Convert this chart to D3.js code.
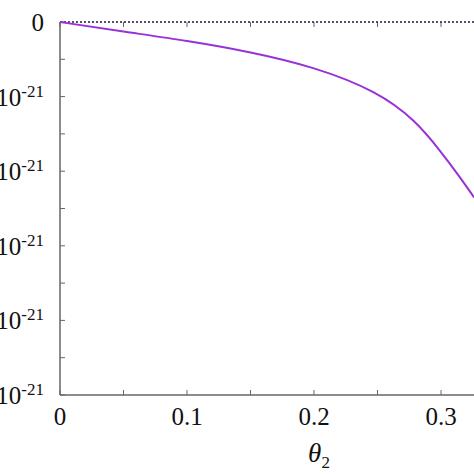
<!DOCTYPE html>
<html><head><meta charset="utf-8">
<script src="https://cdn.jsdelivr.net/npm/d3@7"></script>
<style>body{margin:0;background:#fff}svg{display:block}text{font-family:'Liberation Serif','Times New Roman',Times,serif;fill:#111}</style>
</head><body><svg id="c" width="474" height="474"></svg>
<script>
const thetaVals=[0,0.05,0.1,0.15,0.2,0.25,0.28,0.3,0.315,0.326];
const curveVals=[0,-0.13,-0.25,-0.40,-0.60,-0.93,-1.32,-1.74,-2.08,-2.35];
const xTicks=[0,0.1,0.2,0.3];
const yTicks=[0,-1,-2,-3,-4,-5];
const svg=d3.select("#c");
const x=d3.scaleLinear().domain([0,0.3]).range([60,441]);
const y=d3.scaleLinear().domain([0,-5]).range([22,395]);
const g=svg.append("g");
const xMinor=d3.range(0,0.36,0.05), yMinor=d3.range(0,-5.01,-0.5);
g.selectAll(".xm").data(xMinor).join("line").attr("x1",d=>x(d)).attr("x2",d=>x(d)).attr("y1",395).attr("y2",390).attr("stroke","#666");
g.selectAll(".xm2").data(xMinor).join("line").attr("x1",d=>x(d)).attr("x2",d=>x(d)).attr("y1",22).attr("y2",27).attr("stroke","#666");
g.selectAll(".ym").data(yMinor).join("line").attr("x1",60).attr("x2",65).attr("y1",d=>y(d)).attr("y2",d=>y(d)).attr("stroke","#666");
g.append("line").attr("x1",60).attr("x2",474).attr("y1",395).attr("y2",395).attr("stroke","#666").attr("stroke-width",1.5);
g.append("line").attr("x1",60).attr("x2",60).attr("y1",22).attr("y2",395).attr("stroke","#666").attr("stroke-width",1.5);
g.selectAll(".xl").data(xTicks).join("text").attr("x",d=>x(d)).attr("y",425).attr("text-anchor","middle").attr("font-size",25).text(d=>d===0?"0":d.toFixed(1));
yTicks.forEach(d=>{
  const t=g.append("text").attr("x",44).attr("y",y(d)+9).attr("text-anchor","end").attr("font-size",25);
  if(d===0){t.text("0");}
  else{t.append("tspan").text(d+"×10");t.append("tspan").attr("font-size",17).attr("dy",-9).text("-21");}
});
const xl=g.append("text").attr("x",x(0.2)+5).attr("y",462).attr("text-anchor","middle").attr("font-size",27).attr("font-style","italic");
xl.append("tspan").text("θ");xl.append("tspan").attr("font-size",17).attr("dy",6).attr("font-style","normal").text("2");
g.append("line").attr("x1",60).attr("x2",474).attr("y1",y(0)).attr("y2",y(0)).attr("stroke","#2a1540").attr("stroke-width",1.5).attr("stroke-dasharray","2,2");
g.append("path").datum(thetaVals.map((t,i)=>[t,curveVals[i]])).attr("fill","none").attr("stroke","#9932d6").attr("stroke-width",2)
 .attr("d",d3.line().x(d=>x(d[0])).y(d=>y(d[1])).curve(d3.curveBasis));
</script></body></html>
